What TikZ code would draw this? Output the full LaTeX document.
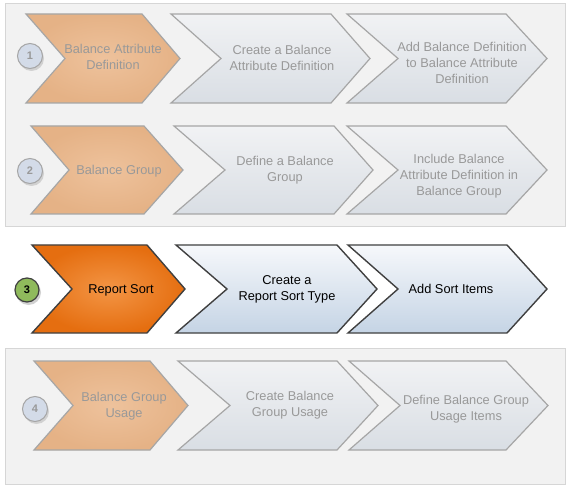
\documentclass[tikz,border=0pt]{standalone}
\usepackage{fontspec}
\setmainfont{Liberation Sans}
\usetikzlibrary{shadings}
\definecolor{panelfill}{HTML}{F2F2F2}
\definecolor{paneledge}{HTML}{D6D6D6}
\definecolor{fadeedge}{HTML}{A6A6A6}
\definecolor{fadetext}{HTML}{999999}
\definecolor{darkedge}{HTML}{404040}
\definecolor{orin}{HTML}{F39545}
\definecolor{orout}{HTML}{E56E10}
\definecolor{forin}{HTML}{EEC29C}
\definecolor{forout}{HTML}{E5B286}
\definecolor{btop}{HTML}{F6F8FB}
\definecolor{bbot}{HTML}{C5D4E5}
\definecolor{gtop}{HTML}{F1F2F4}
\definecolor{gbot}{HTML}{D9DEE4}
\definecolor{cfade}{HTML}{D3DBE8}
\definecolor{cgreen}{HTML}{8FBA5C}
\tikzset{
  panel/.style={fill=panelfill, draw=paneledge, line width=1pt},
  fadeorange/.style={draw=fadeedge, line width=1.2pt, inner color=forin, outer color=forout},
  fadegray/.style={draw=fadeedge, line width=1.2pt, top color=gtop, bottom color=gbot},
  hotorange/.style={draw=darkedge, line width=1.4pt, inner color=orin, outer color=orout},
  hotblue/.style={draw=darkedge, line width=1.4pt, top color=btop, bottom color=bbot},
  fadelabel/.style={text=fadetext, font=\fontsize{12.8}{16}\selectfont, align=center},
  hotlabel/.style={text=black, font=\fontsize{12.8}{16}\selectfont, align=center},
  fadenum/.style={circle, minimum size=25pt, inner sep=0pt, draw=fadeedge, line width=1pt,
     fill=cfade, text=fadetext, font=\fontsize{11}{12}\bfseries},
  hotnum/.style={circle, minimum size=24pt, inner sep=0pt, draw=darkedge, line width=1.2pt,
     fill=cgreen, text=black, font=\fontsize{11}{12}\bfseries},
  numshadow/.style={circle, fill=black!18, minimum size=25pt, inner sep=0pt},
}
% #1 style, #2 left x, #3 notch x, #4 corner x, #5 tip x, #6 top y, #7 bottom y
\newcommand\chevshape[7]{%
  \path[#1] (#2,#6) -- (#4,#6) -- (#5,{(#6+#7)/2}) -- (#4,#7) -- (#2,#7) -- (#3,{(#6+#7)/2}) -- cycle;}
\begin{document}
\begin{tikzpicture}[x=1pt,y=-1pt]
\useasboundingbox (0,0) rectangle (570,486);
\fill[white] (0,0) rectangle (570,486);
% panels
\draw[panel] (5,4) rectangle (565,227);
\draw[panel] (5,348) rectangle (565,484);
% row 1
\chevshape{fadeorange}{26}{65}{142}{180}{14}{103}
\chevshape{fadegray}{171}{221}{331}{370}{14}{103}
\chevshape{fadegray}{347}{398}{506}{547}{14}{103}
\node[fadelabel] (t11) at (113,57) {Balance Attribute\\Definition};
\node[fadelabel] (t12) at (282,58) {Create a Balance\\Attribute Definition};
\node[fadelabel] (t13) at (462,63) {Add Balance Definition\\to Balance Attribute\\Definition};
\node[numshadow] at (31.5,58.5) {};
\node[fadenum] (n1) at (30,56) {1};
% row 2
\chevshape{fadeorange}{31}{69}{144}{183}{126}{214}
\chevshape{fadegray}{174}{225}{334}{373}{126}{214}
\chevshape{fadegray}{347}{398}{506}{547}{126}{214}
\node[fadelabel] (t21) at (119,171) {Balance Group};
\node[fadelabel] (t22) at (285,170) {Define a Balance\\Group};
\node[fadelabel] (t23) at (459,176) {Include Balance\\Attribute Definition in\\Balance Group};
\node[numshadow] at (31.5,173.5) {};
\node[fadenum] (n2) at (30,171) {2};
% row 3
\chevshape{hotorange}{32}{72}{147}{185}{245}{333}
\chevshape{hotblue}{176}{227}{337}{377}{245}{333}
\chevshape{hotblue}{348}{398}{507}{547}{245}{333}
\node[hotlabel] (t31) at (121,290) {Report Sort};
\node[hotlabel] (t32) at (287,289) {Create a\\Report Sort Type};
\node[hotlabel] (t33) at (451,289) {Add Sort Items};
\node[numshadow] at (28.5,292.5) {};
\node[hotnum] (n3) at (27,290) {3};
% row 4
\chevshape{fadeorange}{34}{73}{150}{188}{361}{450}
\chevshape{fadegray}{178}{230}{337}{378}{361}{450}
\chevshape{fadegray}{349}{400}{506}{548}{361}{450}
\node[fadelabel] (t41) at (124,406) {Balance Group\\Usage};
\node[fadelabel] (t42) at (290,405) {Create Balance\\Group Usage};
\node[fadelabel] (t43) at (466,409) {Define Balance Group\\Usage Items};
\node[numshadow] at (36.5,411.5) {};
\node[fadenum] (n4) at (35,409) {4};
\end{tikzpicture}
\end{document}
